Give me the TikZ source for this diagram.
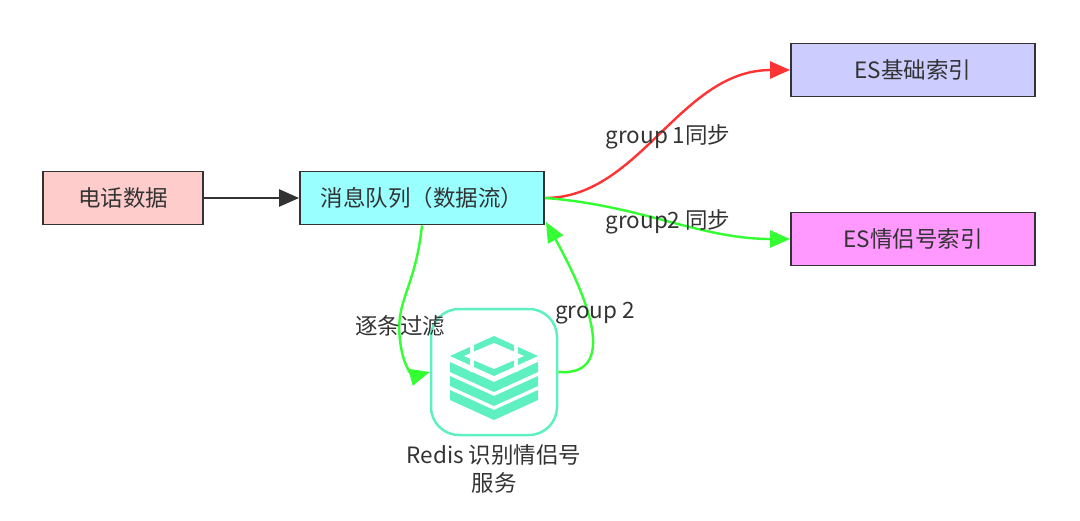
\documentclass[tikz,border=0pt]{standalone}
\usepackage{fontspec}
\setmainfont{Noto Sans CJK SC}
\usetikzlibrary{arrows.meta}
\definecolor{txt}{HTML}{333333}
\definecolor{grn}{HTML}{33FF33}
\definecolor{rd}{HTML}{FF3333}
\definecolor{mint}{HTML}{5EF0C0}
\begin{document}
\begin{tikzpicture}[x=1pt,y=-1pt]
	\tikzstyle{box} = [draw=txt,line width=1.8pt,minimum width=244pt,minimum height=53pt,font=\fontsize{22.5}{26}\selectfont,text=txt]
	\tikzstyle{lbl} = [font=\fontsize{22.5}{26}\selectfont,text=txt]
	\tikzstyle{link} = [line width=2.4pt,-{Triangle[length=20pt,width=17pt]}]
	\useasboundingbox (0,0) rectangle (1080,520);
	\node[box,minimum width=160pt,fill={rgb,255:red,255;green,204;blue,204}](phone)at (123,198){电话数据};
	\node[box,fill={rgb,255:red,153;green,255;blue,255}](queue)at (422,198){消息队列（数据流）};
	\node[box,fill={rgb,255:red,204;green,204;blue,255}](esbase)at (913,70){ES基础索引};
	\node[box,fill={rgb,255:red,255;green,153;blue,255}](escp)at (913,239){ES情侣号索引};
	
	\node[draw=mint,line width=2.5pt,rounded corners=28pt,minimum size=126pt](redis)at (494,372){};
	% stacked layers of the icon
	\fill[mint] (450,362) -- (494,382) -- (538,362) -- (538,372) -- (494,392) -- (450,372) -- cycle;
	\fill[mint] (450,376) -- (494,396) -- (538,376) -- (538,386) -- (494,406) -- (450,386) -- cycle;
	\fill[mint] (450,390) -- (494,410) -- (538,390) -- (538,400) -- (494,420) -- (450,400) -- cycle;
	\fill[mint] (450,356) -- (494,336) -- (538,356) -- (494,376) -- cycle;
	\fill[white] (464,356) -- (494,343) -- (524,356) -- (494,369) -- cycle;
	\draw[white,line width=4pt] (472,340) -- (472,372) (516,340) -- (516,372);
	\node[lbl](rlabel)at (494,455){Redis 识别情侣号};
	\node[lbl](rlabel2)at (494,483){服务};
	
	\draw[link,txt] (phone) -- (queue);
	\draw[link,rd] (queue.east) .. controls (640,198) and (680,70) .. (esbase.west);
	\draw[link,grn] (queue.east) .. controls (640,205) and (700,239) .. (escp.west);
	\draw[link,grn] (queue.south) .. controls (415,290) and (395,300) .. (400,340) .. controls (403,370) and (415,376) .. (redis.west);
	\draw[link,grn] (redis.east) .. controls (610,376) and (600,320) .. (546,222);
	
	\node[lbl](g1)at (668,137){group 1同步};
	\node[lbl](g2)at (668,222){group2 同步};
	\node[lbl](filt)at (400,326){逐条过滤};
	\node[lbl](g3)at (595,313){group 2};
\end{tikzpicture}
\end{document}
